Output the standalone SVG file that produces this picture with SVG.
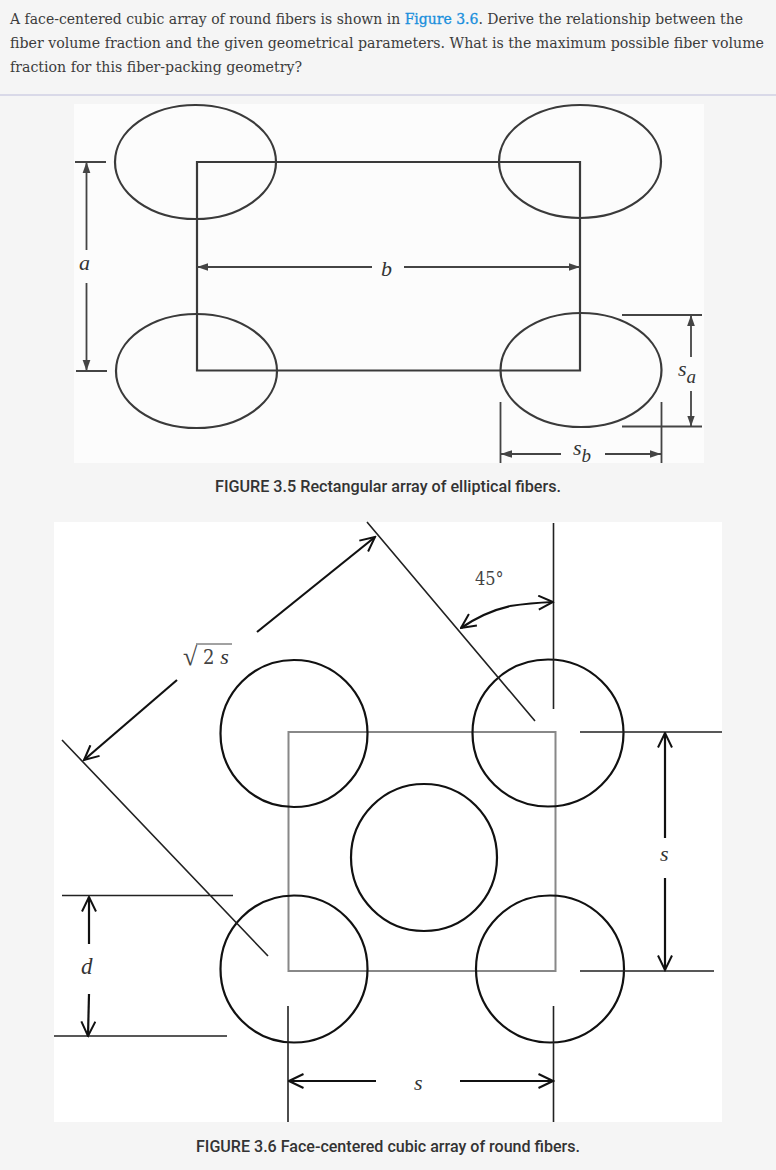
<svg xmlns="http://www.w3.org/2000/svg" width="776" height="1170" viewBox="0 0 776 1170">
<style>
.body{font-family:"DejaVu Serif","Liberation Serif",serif;font-stretch:condensed;font-size:15.5px;fill:#3c3c3c}
.cap{font-family:"Roboto","Noto Sans",sans-serif;font-weight:500;font-size:16px;fill:#333}
.math{font-family:"Liberation Serif","DejaVu Serif",serif;font-style:italic;fill:#333}
.num{font-family:"DejaVu Serif","Liberation Serif",serif;font-stretch:condensed;fill:#444}
.f5{fill:none;stroke:#3a3a3a;stroke-width:2.2}
.d5{fill:none;stroke:#444;stroke-width:1.8}
.f6{fill:none;stroke:#111;stroke-width:2.2}
.g{fill:none;stroke:#888;stroke-width:2}
.l6{fill:none;stroke:#222;stroke-width:1.6}
.a6{fill:none;stroke:#111;stroke-width:2.2}
</style>
<defs>
<marker id="solid" viewBox="0 0 10 8" refX="10" refY="4" markerWidth="11" markerHeight="9" markerUnits="userSpaceOnUse" orient="auto"><path d="M0 0.500 L10 4 L0 7.500 Z" fill="#444"/></marker>
<marker id="open" viewBox="0 0 18 16" refX="16.500" refY="8" markerWidth="18" markerHeight="16" markerUnits="userSpaceOnUse" orient="auto"><path d="M2 1 L16.500 8 L2 15" fill="none" stroke="#111" stroke-width="2"/></marker>
</defs>
<rect width="776" height="1170" fill="#f5f5f5"/>
<g id="question">
<text class="body" x="10" y="24" textLength="733" lengthAdjust="spacingAndGlyphs">A face-centered cubic array of round fibers is shown in <tspan fill="#1a8fdc" stroke="#1a8fdc" stroke-width="0.3">Figure 3.6</tspan>. Derive the relationship between the</text>
<text class="body" x="10" y="48" textLength="754" lengthAdjust="spacingAndGlyphs">fiber volume fraction and the given geometrical parameters. What is the maximum possible fiber volume</text>
<text class="body" x="10" y="72" textLength="292" lengthAdjust="spacingAndGlyphs">fraction for this fiber-packing geometry?</text>
</g>
<rect id="rule" x="0" y="94" width="776" height="2" fill="#d9d9e8"/>

<g id="figure-3-5">
<rect x="74" y="104" width="630" height="359" fill="#fcfcfc"/>
<g id="ell-tl"><ellipse class="f5" cx="195.500" cy="162" rx="80.500" ry="57"/></g>
<g id="ell-tr"><ellipse class="f5" cx="580" cy="161.500" rx="81" ry="56.500"/></g>
<g id="ell-bl"><ellipse class="f5" cx="196.500" cy="371" rx="80.500" ry="57"/></g>
<g id="ell-br"><ellipse class="f5" cx="581" cy="370" rx="80.500" ry="57"/></g>
<g id="rect-a-b"><path class="f5" d="M197 162H580V370.500H197Z"/></g>
<g id="connectors-3-5">
<path class="d5" d="M75 162H106M76 371H107M622 315H702M622 426.500H702M500.500 402V463M661.500 402V463"/>
<path class="d5" d="M86.500 250V162" marker-end="url(#solid)"/>
<path class="d5" d="M86.500 283V371" marker-end="url(#solid)"/>
<path class="d5" d="M372 267H197" marker-end="url(#solid)"/>
<path class="d5" d="M404 267H580" marker-end="url(#solid)"/>
<path class="d5" d="M691 357V315" marker-end="url(#solid)"/>
<path class="d5" d="M691 391V426.500" marker-end="url(#solid)"/>
<path class="d5" d="M561 454H501" marker-end="url(#solid)"/>
<path class="d5" d="M605 454H661" marker-end="url(#solid)"/>
</g>
<text class="math" x="79" y="270" font-size="22">a</text>
<text class="math" x="381" y="276" font-size="22">b</text>
<text class="math" x="678" y="376" font-size="22">s<tspan font-size="19" dy="7">a</tspan></text>
<text class="math" x="573" y="455" font-size="22">s<tspan font-size="19" dy="7">b</tspan></text>
</g>
<text class="cap" x="215" y="492" textLength="346" lengthAdjust="spacingAndGlyphs">FIGURE 3.5 Rectangular array of elliptical fibers.</text>

<g id="figure-3-6">
<rect x="54" y="522" width="668" height="600" fill="#fff"/>
<g id="sq"><path class="g" d="M288.500 732H555.500V971H288.500Z"/></g>
<g id="c-tl"><ellipse class="f6" cx="294" cy="733.500" rx="73.500" ry="73.500"/></g>
<g id="c-tr"><ellipse class="f6" cx="548" cy="733" rx="75.500" ry="73.500"/></g>
<g id="c-c"><ellipse class="f6" cx="424" cy="857.500" rx="73" ry="73.500"/></g>
<g id="c-bl"><ellipse class="f6" cx="294" cy="969" rx="73.500" ry="73.500"/></g>
<g id="c-br"><ellipse class="f6" cx="550" cy="969" rx="74" ry="73.500"/></g>
<g id="connectors-3-6">
<path class="l6" d="M367 522L535 721M62 740L268 956M553.500 523V709M580 732H722M580 971H714M62 895.500H233M54 1036H227M288 1006V1122M553.500 1006V1122"/>
<path class="a6" d="M257 632L375 537" marker-end="url(#open)"/>
<path class="a6" d="M177 680L84 760" marker-end="url(#open)"/>
<path class="a6" d="M665 838V733" marker-end="url(#open)"/>
<path class="a6" d="M665 878V970" marker-end="url(#open)"/>
<path class="a6" d="M89 944V897" marker-end="url(#open)"/>
<path class="a6" d="M89 994L88 1036" marker-end="url(#open)"/>
<path class="a6" d="M376 1081H289" marker-end="url(#open)"/>
<path class="a6" d="M460 1081H553" marker-end="url(#open)"/>
<path class="a6" d="M510 606Q530 603 553 602" marker-end="url(#open)"/>
<path class="a6" d="M510 606Q484 612 461 628" marker-end="url(#open)"/>
</g>
<text class="num" x="475" y="585" font-size="18">45°</text>
<text x="183" y="665" font-size="26" font-family="Liberation Serif, serif" fill="#444">√</text>
<path d="M196 644H232" fill="none" stroke="#444" stroke-width="1"/>
<text class="num" x="203" y="664" font-size="20">2 <tspan class="math" font-size="22">s</tspan></text>
<text class="math" x="81" y="974" font-size="23">d</text>
<text class="math" x="660" y="861" font-size="22">s</text>
<text class="math" x="414" y="1090" font-size="22">s</text>
</g>
<text class="cap" x="196" y="1152" textLength="384" lengthAdjust="spacingAndGlyphs">FIGURE 3.6 Face-centered cubic array of round fibers.</text>
</svg>
